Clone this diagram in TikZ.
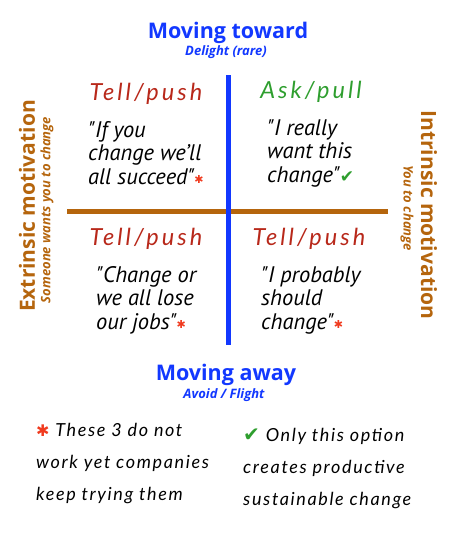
\documentclass[tikz,border=0pt]{standalone}
\usepackage{fontspec}
\setmainfont{PT Sans}
\newfontfamily\headfont{Open Sans}
\newfontfamily\handfont[LetterSpace=9]{Lato}
\newfontfamily\handhead[LetterSpace=13]{Lato}
\newfontfamily\symfont{DejaVu Sans}
\usetikzlibrary{positioning}
\definecolor{axisblue}{HTML}{1238FF}
\definecolor{axisbrown}{HTML}{B5650D}
\definecolor{pushred}{HTML}{B8281A}
\definecolor{pullgreen}{HTML}{2E9E2E}
\definecolor{starred}{HTML}{F03A1E}
\newcommand{\qq}{\textquotedbl}
\newcommand{\redstar}{\textcolor{starred}{\symfont\fontsize{11}{11}\selectfont\raisebox{1pt}{✱}}}
\newcommand{\okmark}{\textcolor{pullgreen}{\symfont\fontsize{17}{17}\selectfont ✔}}
\tikzset{
  % bold axis titles
  axistitle/.style={font=\headfont\bfseries\fontsize{21.5}{24}\selectfont,
                    text=#1, inner sep=0pt, anchor=base},
  % side titles, turned
  sidetitle/.style={font=\headfont\bfseries\fontsize{21}{24}\selectfont,
                    text=#1, inner sep=0pt, anchor=center},
  % small bold italic captions
  axissub/.style={font=\headfont\bfseries\itshape\fontsize{13}{15}\selectfont,
                  text=#1, inner sep=0pt, anchor=base},
  % handwritten headings
  hand/.style={font=\handhead\itshape\fontsize{23.5}{26}\selectfont,
               text=#1, inner sep=0pt, anchor=base},
  % quotes inside the quadrants (placed at the last baseline)
  quote/.style={font=\itshape\fontsize{22.5}{23.5}\selectfont, align=left,
                anchor=base west, inner sep=0pt},
  % notes under the chart
  note/.style={font=\handfont\itshape\fontsize{18}{32}\selectfont, align=left,
               anchor=base west, inner sep=0pt},
  axisline/.style={draw=#1, line width=5pt},
}

\begin{document}
\begin{tikzpicture}[x=1pt, y=-1pt]
  \useasboundingbox (0,0) rectangle (453,538);
  % axes
  \coordinate (vtop) at (228,75);
  \coordinate (vbot) at (228,345);
  \coordinate (hleft) at (67,211.5);
  \coordinate (hright) at (388,211.5);
  \draw[axisline=axisbrown] (hleft) -- (hright);
  \draw[axisline=axisblue] (vtop) -- (vbot);
  % vertical axis titles
  \node[axistitle=axisblue] (toward) at (228,38) {Moving toward};
  \node[axissub=axisblue] (towardsub) at (226,55) {Delight (rare)};
  \node[axistitle=axisblue] (away) at (226,380) {Moving away};
  \node[axissub=axisblue] (awaysub) at (224,398) {Avoid / Flight};
  % horizontal axis titles
  \node[sidetitle=axisbrown, rotate=90] (extr) at (27,206) {Extrinsic motivation};
  \node[axissub=axisbrown, anchor=center, rotate=90] (extrsub) at (47,210)
    {Someone wants you to change};
  \node[sidetitle=axisbrown, rotate=-90] (intr) at (429,215) {Intrinsic motivation};
  \node[axissub=axisbrown, anchor=center, rotate=-90] (intrsub) at (407,208)
    {You to change};
  % quadrant headings
  \node[hand=pushred] (tl) at (146,100) {Tell/push};
  \node[hand=pullgreen] (tr) at (311,98) {Ask/pull};
  \node[hand=pushred] (bl) at (146,245) {Tell/push};
  \node[hand=pushred] (br) at (309,245) {Tell/push};
  % quotes
  \node[quote] (qtl) at (88,184) {\qq If you\\change we'll\\all succeed\qq\redstar};
  \node[quote] (qtr) at (267,182) {\qq I really\\want this\\change\qq\okmark};
  \node[quote] (qbl) at (96,329) {\qq Change or\\we all lose\\our jobs\qq\redstar};
  \node[quote] (qbr) at (261,329) {\qq I probably\\should\\change\qq\redstar};
  % notes
  \node[note] (noteleft) at (36,500)
    {\textcolor{starred}{\symfont\fontsize{16}{16}\selectfont ✱} These 3 do not\\
     work yet companies\\keep trying them};
  \node[note] (noteright) at (243,505)
    {\textcolor{pullgreen}{\symfont\fontsize{20}{20}\selectfont ✔} Only this option\\
     creates productive\\sustainable change};
\end{tikzpicture}
\end{document}
